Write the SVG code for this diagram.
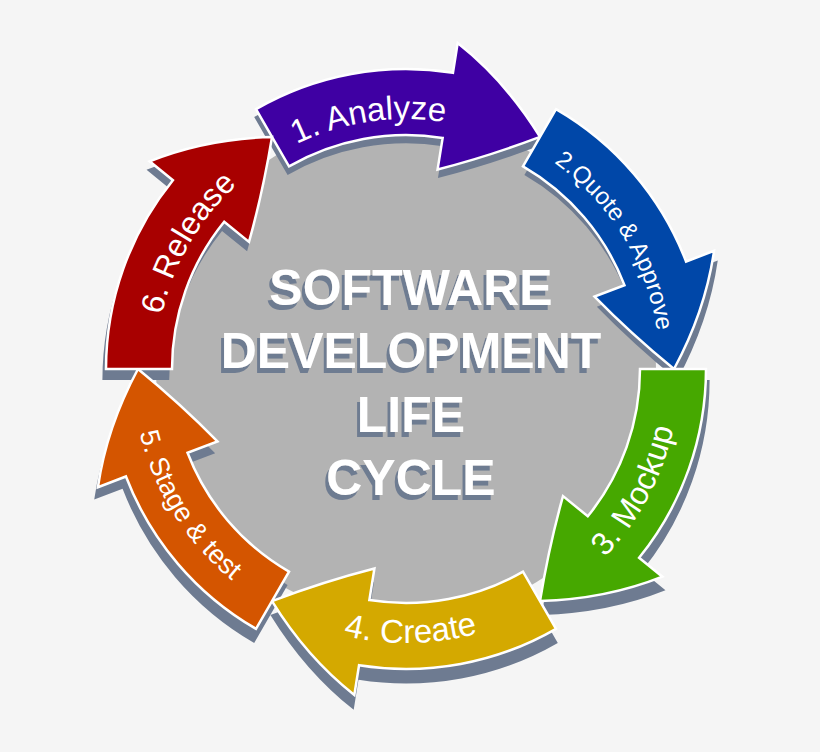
<svg xmlns="http://www.w3.org/2000/svg" width="820" height="752" viewBox="0 0 820 752">
<style>
.sh{fill:#6e7b91}
.seg{stroke:#ffffff;stroke-width:2.5;stroke-linejoin:miter}
.lbl{font-family:"Liberation Sans",Arial,sans-serif;fill:#ffffff}
.title{font-family:"Liberation Sans",Arial,sans-serif;font-weight:bold;font-size:50px;text-anchor:middle;fill:#ffffff}
</style>
<defs>
<filter id="tshadow" x="-10%" y="-20%" width="120%" height="150%">
<feDropShadow dx="-3" dy="5" stdDeviation="0" flood-color="#6e7b91" flood-opacity="1"/>
</filter>
<path id="seg" d="M0,-300 A300,300 0 0 1 188.8,-233.1 L207.7,-256.4 Q230.2,-200.1 232.1,-134 Q177,-143 127.1,-157 L147.3,-181.8 A234,234 0 0 0 0,-234 Z"/>
<path id="p1" d="M173.4,277.4 A250,250 0 0 1 601.7,213.4"/>
<path id="p2" d="M399.3,115.1 A254,254 0 0 1 629.2,490.2"/>
<path id="p3" d="M415.6,642.8 A274,274 0 0 0 638.4,223.8"/>
<path id="p4" d="M171.1,510.1 A274,274 0 0 0 645.6,501.8"/>
<path id="p5" d="M164.1,240.4 A274,274 0 0 0 415.6,642.8"/>
<path id="p6" d="M189.5,494 A250,250 0 0 1 406,119"/>
</defs>
<rect width="820" height="752" fill="#f5f5f5"/>
<g id="hub">
<circle cx="406" cy="369" r="250" fill="#b3b3b3"/>
</g>
<g id="shadows">
<use href="#seg" class="sh" transform="translate(406,380) scale(1.012) rotate(-30)"/>
<use href="#seg" class="sh" transform="translate(406,380) scale(1.012) rotate(30)"/>
<use href="#seg" class="sh" transform="translate(406,380) scale(1.012) rotate(90)"/>
<use href="#seg" class="sh" transform="translate(406,380) scale(1.012) rotate(150)"/>
<use href="#seg" class="sh" transform="translate(406,380) scale(1.012) rotate(210)"/>
<use href="#seg" class="sh" transform="translate(406,380) scale(1.012) rotate(270)"/>
</g>
<g id="title" class="title" filter="url(#tshadow)">
<text x="411" y="305">SOFTWARE</text>
<text x="411" y="368">DEVELOPMENT</text>
<text x="411" y="432">LIFE</text>
<text x="411" y="495">CYCLE</text>
</g>
<g id="step1">
<use href="#seg" class="seg" fill="#3f00a3" transform="translate(406,369) rotate(-30)"/>
<text class="lbl" font-size="33"><textPath href="#p1" startOffset="50%" text-anchor="middle">1. Analyze</textPath></text>
</g>
<g id="step2">
<use href="#seg" class="seg" fill="#0047a8" transform="translate(406,369) rotate(30)"/>
<text class="lbl" font-size="24"><textPath href="#p2" startOffset="50%" text-anchor="middle">2.Quote &amp; Approve</textPath></text>
</g>
<g id="step3">
<use href="#seg" class="seg" fill="#46a800" transform="translate(406,369) rotate(90)"/>
<text class="lbl" font-size="32"><textPath href="#p3" startOffset="50%" text-anchor="middle">3. Mockup</textPath></text>
</g>
<g id="step4">
<use href="#seg" class="seg" fill="#d4a900" transform="translate(406,369) rotate(150)"/>
<text class="lbl" font-size="33"><textPath href="#p4" startOffset="50%" text-anchor="middle">4. Create</textPath></text>
</g>
<g id="step5">
<use href="#seg" class="seg" fill="#d45500" transform="translate(406,369) rotate(210)"/>
<text class="lbl" font-size="27"><textPath href="#p5" startOffset="50%" text-anchor="middle">5. Stage &amp; test</textPath></text>
</g>
<g id="step6">
<use href="#seg" class="seg" fill="#a80000" transform="translate(406,369) rotate(270)"/>
<text class="lbl" font-size="32"><textPath href="#p6" startOffset="50%" text-anchor="middle">6. Release</textPath></text>
</g>
<g id="connectors"/>
</svg>
